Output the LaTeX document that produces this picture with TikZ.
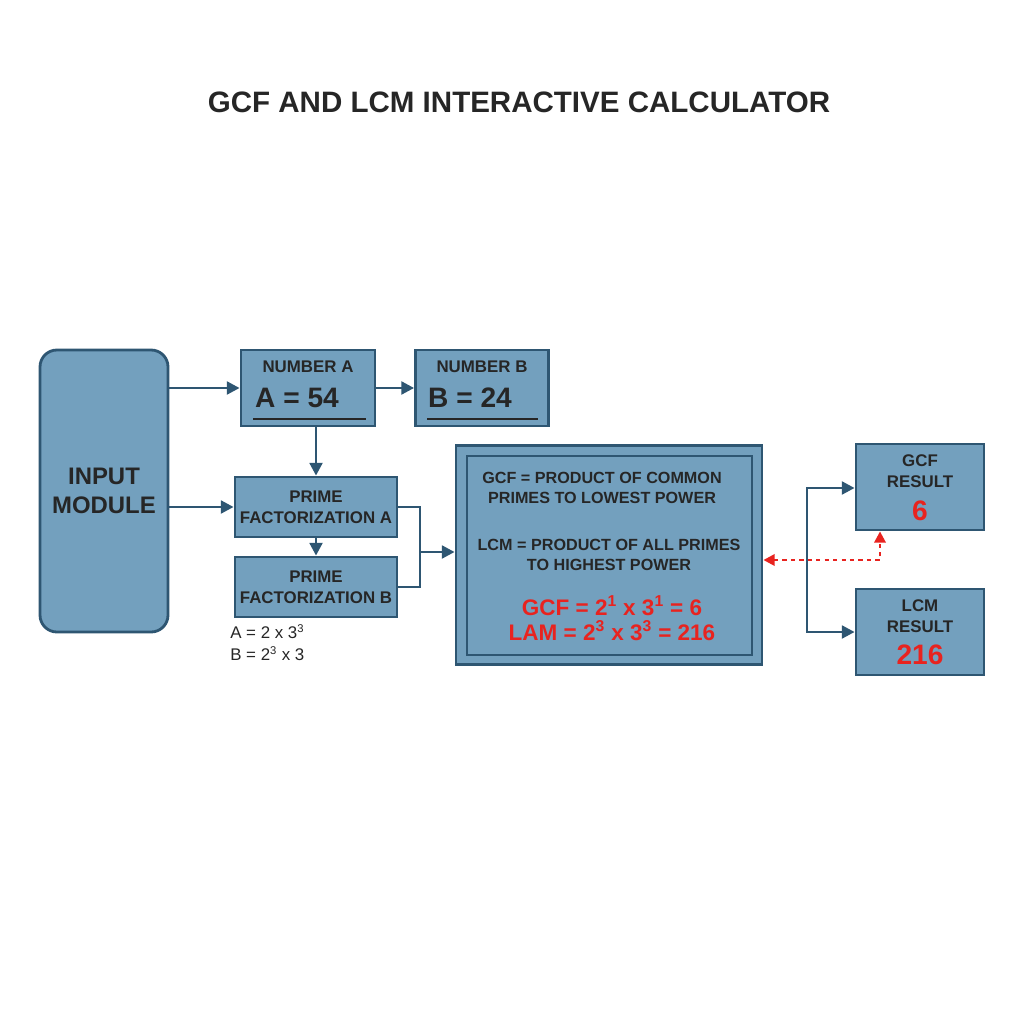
\documentclass[tikz,border=0pt]{standalone}
\usepackage{fontspec}
\setmainfont{Liberation Sans}
\usetikzlibrary{arrows.meta}
\definecolor{boxfill}{HTML}{73A0BE}
\definecolor{boxedge}{HTML}{2E5672}
\definecolor{txt}{HTML}{262626}
\definecolor{hot}{HTML}{E8231F}
\tikzset{
  blk/.style={draw=boxedge,line width=2pt,fill=boxfill},
  flow/.style={draw=boxedge,line width=2pt,-{Triangle[length=9pt,width=9pt]}},
  link/.style={draw=boxedge,line width=2pt},
  lbl/.style={text=txt,font=\bfseries,align=center,inner sep=0pt}
}
\begin{document}
\begin{tikzpicture}[x=0.025cm,y=-0.025cm]
	\useasboundingbox (0,0) rectangle (1024,1024);
	\fill[white] (0,0) rectangle (1024,1024);
	%%%%%%%%%%%%%%% title
	\node[lbl,font=\bfseries\fontsize{21}{24}\selectfont] (title) at (519,102) {GCF AND LCM INTERACTIVE CALCULATOR};
	%%%%%%%%%%%%%%% boxes
	\node[blk,rounded corners=12pt,minimum width=128*0.025cm,minimum height=282*0.025cm] (input) at (104,491) {};
	\node[lbl,font=\bfseries\fontsize{17}{21}\selectfont] at (input) {INPUT\\MODULE};
	\node[blk,minimum width=134*0.025cm,minimum height=76*0.025cm] (numA) at (308,388) {};
	\node[lbl,font=\bfseries\fontsize{12}{14}\selectfont] at (308,367) {NUMBER A};
	\node[lbl,font=\bfseries\fontsize{20}{24}\selectfont] at (297,398) {A = 54};
	\draw[txt,line width=1pt] (253,419) -- (366,419);
	\node[blk,minimum width=133*0.025cm,minimum height=76*0.025cm] (numB) at (482,388) {};
	\node[lbl,font=\bfseries\fontsize{12}{14}\selectfont] at (482,367) {NUMBER B};
	\node[lbl,font=\bfseries\fontsize{20}{24}\selectfont] at (470,398) {B = 24};
	\draw[txt,line width=1pt] (427,419) -- (538,419);
	\node[blk,minimum width=162*0.025cm,minimum height=60*0.025cm,lbl,font=\bfseries\fontsize{12}{15}\selectfont] (pfA) at (316,507) {PRIME\\FACTORIZATION A};
	\node[blk,minimum width=162*0.025cm,minimum height=60*0.025cm,lbl,font=\bfseries\fontsize{12}{15}\selectfont] (pfB) at (316,587) {PRIME\\FACTORIZATION B};
	\node[lbl,align=left,anchor=north west,font=\fontsize{12}{16}\selectfont] (fact) at (230,624) {A = 2 x 3\textsuperscript{3}\\B = 2\textsuperscript{3} x 3};
	\node[blk,minimum width=306*0.025cm,minimum height=219*0.025cm] (rule) at (609,555) {};
	\draw[boxedge,line width=2pt] (467,456) rectangle (752,655);
	\node[lbl,font=\bfseries\fontsize{11.5}{14}\selectfont] at (602,488) {GCF = PRODUCT OF COMMON\\PRIMES TO LOWEST POWER};
	\node[lbl,font=\bfseries\fontsize{11.5}{14}\selectfont] at (609,555) {LCM = PRODUCT OF ALL PRIMES\\TO HIGHEST POWER};
	\node[lbl,text=hot,font=\bfseries\fontsize{16}{18}\selectfont] at (612,618) {GCF = 2\textsuperscript{1} x 3\textsuperscript{1} = 6\\LAM = 2\textsuperscript{3} x 3\textsuperscript{3} = 216};
	\node[blk,minimum width=128*0.025cm,minimum height=86*0.025cm] (gcf) at (920,487) {};
	\node[lbl,font=\bfseries\fontsize{12}{15}\selectfont] at (920,471) {GCF\\RESULT};
	\node[lbl,text=hot,font=\bfseries\fontsize{20}{24}\selectfont] at (920,511) {6};
	\node[blk,minimum width=128*0.025cm,minimum height=86*0.025cm] (lcm) at (920,632) {};
	\node[lbl,font=\bfseries\fontsize{12}{15}\selectfont] at (920,616) {LCM\\RESULT};
	\node[lbl,text=hot,font=\bfseries\fontsize{20}{24}\selectfont] at (920,655) {216};
	%%%%%%%%%%%%%%% connectors
	\coordinate (join) at (420,552);
	\coordinate (split) at (807,560);
	\coordinate (bend) at (880,560);
	\draw[flow] (input.east |- numA) -- (numA);
	\draw[flow] (input.east |- pfA) -- (pfA);
	\draw[flow] (numA) -- (numB);
	\draw[flow] (numA.south -| pfA) -- (pfA);
	\draw[flow] (pfA) -- (pfB);
	\draw[link] (pfA.east) -| (join) |- (pfB.east);
	\draw[flow] (join) -- (rule.west |- join);
	\draw[flow] (split) |- (gcf.west |- 0,488);
	\draw[flow] (split) |- (lcm.west |- 0,632);
	\draw[hot,line width=1.8pt,dashed,{Triangle[length=8pt,width=8pt]}-{Triangle[length=8pt,width=8pt]}] (rule.east |- bend) -- (bend) -- (bend |- gcf.south);
\end{tikzpicture}
\end{document}
